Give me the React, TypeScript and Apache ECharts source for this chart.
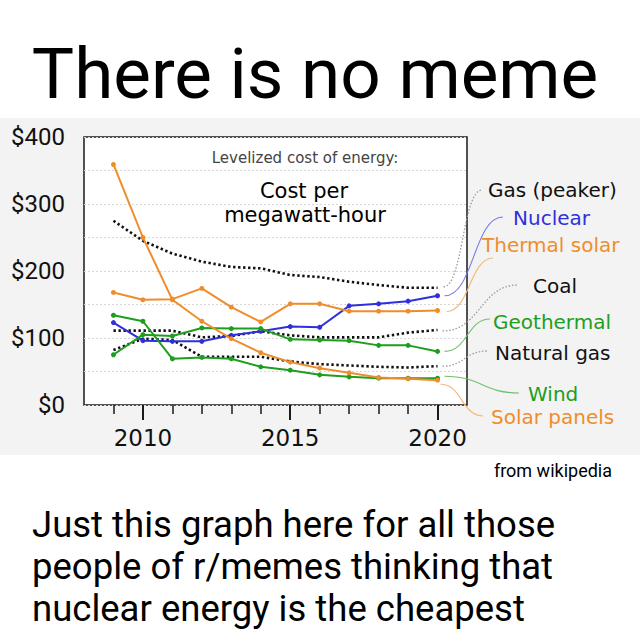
import React, { useEffect, useRef } from "react";
import * as echarts from "echarts";

const years = [2009, 2010, 2011, 2012, 2013, 2014, 2015, 2016, 2017, 2018, 2019, 2020];
const gasPeaker = [275, 245, 226, 214, 206, 204, 194, 191, 184, 179, 175, 175];
const nuclear = [123, 96, 95, 95, 104, 110, 117, 116, 148, 151, 155, 163];
const thermalSolar = [168, 157, 158, 174, 146, 124, 151, 151, 140, 140, 140, 141];
const coal = [111, 111, 111, 101, 103, 110, 104, 101, 101, 101, 108, 112];
const geothermal = [75, 105, 103, 115, 114, 114, 98, 97, 96, 89, 89, 80];
const naturalGas = [82, 99, 97, 72, 72, 72, 65, 61, 59, 57, 56, 58];
const wind = [134, 125, 69, 71, 69, 57, 52, 45, 42, 40, 40, 40];
const solarPanels = [359, 250, 157, 125, 99, 78, 64, 55, 48, 41, 39, 37];

const minorTickYears = years;
const majorTickYears = [2010, 2015, 2020];
const yLabelValues = [0, 100, 200, 300, 400];

const ORANGE = "#ef8d2b";
const BLUE = "#2f2fdc";
const GREEN = "#1e9e1e";
const BLACK = "#111111";

const seriesSpec = [
  { name: "Gas (peaker)", values: gasPeaker, color: BLACK, dotted: true, lx: 488, ly: 190, ax: 482, ay: 190, sdx: 6, sdy: -1, conn: "#9a9a9a" },
  { name: "Nuclear", values: nuclear, color: BLUE, dotted: false, lx: 513, ly: 218, ax: 503, ay: 217, sdx: 7, sdy: 0, conn: "#7a7ae6" },
  { name: "Thermal solar", values: thermalSolar, color: ORANGE, dotted: false, lx: 482, ly: 245, ax: 493, ay: 258, sdx: 9, sdy: 1, conn: "#f3b77a" },
  { name: "Coal", values: coal, color: BLACK, dotted: true, lx: 533, ly: 286, ax: 518, ay: 285, sdx: 5, sdy: 1, conn: "#9a9a9a" },
  { name: "Geothermal", values: geothermal, color: GREEN, dotted: false, lx: 493, ly: 322, ax: 490, ay: 319, sdx: 7, sdy: 0, conn: "#6fbf6f" },
  { name: "Natural gas", values: naturalGas, color: BLACK, dotted: true, lx: 495, ly: 353, ax: 487, ay: 351, sdx: 5, sdy: 0, conn: "#9a9a9a" },
  { name: "Wind", values: wind, color: GREEN, dotted: false, lx: 528, ly: 394, ax: 519, ay: 393, sdx: 7, sdy: -2, conn: "#6fbf6f" },
  { name: "Solar panels", values: solarPanels, color: ORANGE, dotted: false, lx: 491, ly: 417, ax: 483, ay: 416, sdx: 3, sdy: 4, conn: "#f3b77a" },
];

export default function App() {
  const ref = useRef<HTMLDivElement>(null);

  useEffect(() => {
    const chart = echarts.init(ref.current!, null, { renderer: "svg" });

    const series = seriesSpec.map((s) => ({
      name: s.name,
      type: "line",
      xAxisIndex: 0,
      yAxisIndex: 0,
      data: years.map((y, i) => [y, s.values[i]]),
      symbol: s.dotted ? "none" : "circle",
      symbolSize: 5,
      showSymbol: !s.dotted,
      itemStyle: { color: s.color },
      lineStyle: s.dotted
        ? { color: s.color, width: 2.6, type: [2.4, 2.6] }
        : { color: s.color, width: 2 },
      z: s.dotted ? 3 : 4,
    }));

    const axisCommon = {
      type: "value",
      min: 2008,
      max: 2021,
      gridIndex: 0,
      position: "bottom",
      splitLine: { show: false },
    };

    chart.setOption({
      animation: false,
      backgroundColor: "transparent",
      grid: {
        left: 84,
        right: 173,
        top: 137,
        bottom: 235,
        show: true,
        backgroundColor: "#ffffff",
        borderColor: "#1a1a1a",
        borderWidth: 1.5,
      },
      xAxis: [
        {
          ...axisCommon,
          axisLine: { show: false },
          axisTick: {
            show: true,
            customValues: minorTickYears,
            length: 9,
            lineStyle: { color: "#1a1a1a", width: 1.5 },
          },
          axisLabel: { show: false },
        },
        {
          ...axisCommon,
          axisLine: { show: false },
          axisTick: {
            show: true,
            customValues: majorTickYears,
            length: 15,
            lineStyle: { color: "#1a1a1a", width: 2 },
          },
          axisLabel: {
            show: true,
            customValues: majorTickYears,
            margin: 21,
            color: "#111",
            fontFamily: "DejaVu Sans",
            fontSize: 23,
            formatter: (v: number) => String(v),
          },
        },
      ],
      yAxis: {
        type: "value",
        min: 0,
        max: 400,
        interval: 50,
        axisLine: { show: false },
        axisTick: { show: false },
        axisLabel: {
          margin: 19,
          color: "#111",
          fontFamily: "Roboto",
          fontSize: 24,
          formatter: (v: number) => (yLabelValues.includes(v) ? "$" + v : ""),
        },
        splitLine: {
          show: true,
          lineStyle: { color: "#d6d6d6", width: 1, type: [2, 2] },
        },
      },
      series,
    });

    const texts: any[] = [
      {
        type: "text",
        x: 315,
        y: 73,
        style: { text: "There is no meme", fill: "#000", fontFamily: "Roboto", fontSize: 71, align: "center", verticalAlign: "middle", textAlign: "center", textVerticalAlign: "middle" },
      },
      {
        type: "text",
        x: 305,
        y: 158,
        style: { text: "Levelized cost of energy:", fill: "#444", fontFamily: "DejaVu Sans", fontSize: 15, align: "center", verticalAlign: "middle", textAlign: "center", textVerticalAlign: "middle" },
      },
      {
        type: "text",
        x: 304,
        y: 191,
        style: { text: "Cost per", fill: "#000", fontFamily: "DejaVu Sans", fontSize: 21, align: "center", verticalAlign: "middle", textAlign: "center", textVerticalAlign: "middle" },
      },
      {
        type: "text",
        x: 305,
        y: 215,
        style: { text: "megawatt-hour", fill: "#000", fontFamily: "DejaVu Sans", fontSize: 21, align: "center", verticalAlign: "middle", textAlign: "center", textVerticalAlign: "middle" },
      },
      {
        type: "text",
        x: 612,
        y: 470,
        style: { text: "from wikipedia", fill: "#000", fontFamily: "Roboto", fontSize: 18, align: "right", verticalAlign: "middle", textAlign: "right", textVerticalAlign: "middle" },
      },
      ...["Just this graph here for all those", "people of r/memes thinking that", "nuclear energy is the cheapest"].map((t, i) => ({
        type: "text",
        x: 32,
        y: 524 + i * 42,
        style: { text: t, fill: "#000", fontFamily: "Roboto", fontSize: 36.5, align: "left", verticalAlign: "middle", textAlign: "left", textVerticalAlign: "middle" },
      })),
    ];

    const labels = seriesSpec.map((s) => ({
      type: "text",
      x: s.lx,
      y: s.ly,
      style: { text: s.name, fill: s.color, fontFamily: "DejaVu Sans", fontSize: 20, align: "left", verticalAlign: "middle", textAlign: "left", textVerticalAlign: "middle" },
    }));

    const connectors = seriesSpec.map((s) => {
      const last = s.values[s.values.length - 1];
      const p = chart.convertToPixel({ xAxisIndex: 0, yAxisIndex: 0 }, [years[years.length - 1], last]) as number[];
      const x1 = p[0] + s.sdx;
      const y1 = p[1] + s.sdy;
      const x2 = s.ax;
      const y2 = s.ay;
      const mx = (x1 + x2) / 2;
      return {
        type: "bezierCurve",
        shape: { x1, y1, x2, y2, cpx1: mx, cpy1: y1, cpx2: mx, cpy2: y2 },
        style: {
          stroke: s.conn,
          lineWidth: s.dotted ? 1.3 : 1.1,
          lineDash: s.dotted ? [1.5, 1.8] : null,
          fill: null,
        },
      };
    });

    chart.setOption({ graphic: [...texts, ...labels, ...connectors] });

    return () => chart.dispose();
  }, []);

  return (
    <div
      ref={ref}
      style={{
        position: "fixed",
        left: 0,
        top: 0,
        width: 640,
        height: 640,
        background: "linear-gradient(to bottom, #ffffff 0px, #ffffff 118px, #f3f3f3 118px, #f3f3f3 455px, #ffffff 455px, #ffffff 640px)",
      }}
    />
  );
}
